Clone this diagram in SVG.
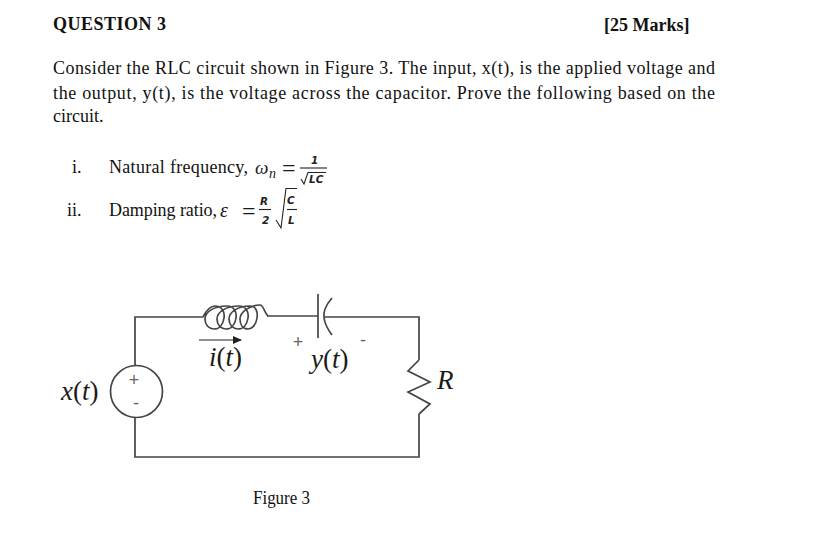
<svg xmlns="http://www.w3.org/2000/svg" width="826" height="541" viewBox="0 0 826 541">
<style>
.t{font-family:"Liberation Serif",serif;font-size:18px;fill:#111}
.b{font-weight:bold}
.m{font-family:"DejaVu Sans",sans-serif;font-size:10.5px;font-weight:bold;font-style:italic;fill:#222}
.mi{font-family:"Liberation Serif",serif;font-style:italic;fill:#1a1a1a}
.eq{font-family:"Liberation Serif",serif;font-size:24px;fill:#1a1a1a}
.c{font-family:"Liberation Serif",serif;font-size:27px;font-style:italic;fill:#1a1a1a}
.u{font-style:normal}
.w{fill:none;stroke:#444;stroke-width:1.7}
.f{fill:none;stroke:#222;stroke-width:1.1}
.s{font-family:"Liberation Sans",sans-serif;font-size:18px;fill:#666;text-anchor:middle}
</style>
<defs>
<marker id="ah" markerWidth="9" markerHeight="8" refX="8" refY="4" orient="auto" markerUnits="userSpaceOnUse"><path d="M0 0L9 4L0 8Z" fill="#222"/></marker>
</defs>
<rect width="826" height="541" fill="#fff"/>
<g id="text">
<text class="t b" x="53" y="30" textLength="113" lengthAdjust="spacing">QUESTION 3</text>
<text class="t b" x="604" y="31">[25 Marks]</text>
<text class="t" x="53" y="74" textLength="662" lengthAdjust="spacing">Consider the RLC circuit shown in Figure 3. The input, x(t), is the applied voltage and</text>
<text class="t" x="53" y="99" textLength="662" lengthAdjust="spacing">the output, y(t), is the voltage across the capacitor. Prove the following based on the</text>
<text class="t" x="53" y="122">circuit.</text>
<text class="t" x="72" y="173">i.</text>
<text class="t" x="67" y="216">ii.</text>
<text class="t" x="109" y="173" textLength="139" lengthAdjust="spacing">Natural frequency,</text>
<text class="mi" x="255" y="174" font-size="19">ω</text>
<text class="mi" x="269" y="178" font-size="14">n</text>
<text class="eq" x="282" y="176">=</text>
<text class="m" x="311" y="164" font-style="normal">1</text>
<path class="f" d="M300 168H327"/>
<path class="f" d="M301 179L304 184L308 172.500H326"/>
<text class="m" x="309" y="183">LC</text>
<text class="t" x="109" y="216" textLength="108" lengthAdjust="spacing">Damping ratio,</text>
<text class="mi" x="220" y="217" font-size="20">ε</text>
<text class="eq" x="242" y="219">=</text>
<text class="m" x="260" y="205">R</text>
<path class="f" d="M259 209.500H271"/>
<text class="m" x="262" y="224" font-style="normal">2</text>
<path class="f" d="M276 220L281 228L286 188.500H297"/>
<text class="m" x="287" y="204">C</text>
<path class="f" d="M287 209.500H297"/>
<text class="m" x="288" y="224">L</text>
<text class="t" x="253" y="504" textLength="57" lengthAdjust="spacingAndGlyphs">Figure 3</text>
</g>
<g id="connectors">
<path class="w" d="M135 366V317H203"/>
<path class="w" d="M135 417V457H419V414"/>
<path class="w" d="M267 316H318"/>
<path class="w" d="M324 317H419V360"/>
</g>
<g id="inductor">
<path class="w" d="M203 317C206 311 210 306 215 306C222 306 225 312 224 318C223 325 219 329 214 329C209 329 205 325 205 319C205 312 214 306 227 306C234 306 237 312 236 318C235 325 231 329 226 329C221 329 217 325 217 319C217 312 226 306 239 306C246 306 249 312 248 318C247 325 243 329 238 329C233 329 229 325 229 319C229 312 238 306 250 306C256 306 258 312 257 318C256 325 252 329 248 329C243 329 240 325 240 319C240 312 250 305 260 305C264 305 264 313 268 316"/>
</g>
<g id="capacitor">
<path class="w" d="M318 294V338"/>
<path class="w" d="M332 298C325 306 323 312 324 318C325 325 329 331 332 335"/>
</g>
<g id="resistor">
<path class="w" d="M419 360L408 371L430 382L408 392L430 404L419 414"/>
<text class="c" x="437" y="389">R</text>
</g>
<g id="source">
<circle class="w" cx="136.500" cy="391.500" r="26"/>
<text class="s" x="134" y="386">+</text>
<text class="s" x="136" y="409">-</text>
<text class="c" x="61" y="400">x<tspan class="u">(</tspan>t<tspan class="u">)</tspan></text>
</g>
<g id="labels">
<path d="M199 340H241" fill="none" stroke="#222" stroke-width="1.100" marker-end="url(#ah)"/>
<text class="c" x="209" y="366">i<tspan class="u">(</tspan>t<tspan class="u">)</tspan></text>
<text class="s" x="298" y="348">+</text>
<text class="s" x="363" y="346">-</text>
<text class="c" x="311" y="368">y<tspan class="u">(</tspan>t<tspan class="u">)</tspan></text>
</g>
</svg>
